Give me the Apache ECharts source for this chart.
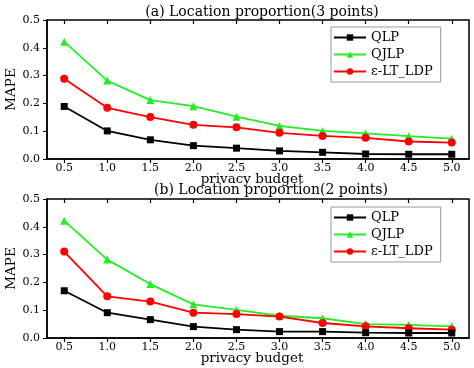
<!DOCTYPE html>
<html><head><meta charset="utf-8">
<script src="https://cdn.jsdelivr.net/npm/echarts@6/dist/echarts.min.js"></script>
<style>html,body{margin:0;padding:0;background:#fff}#c{width:474px;height:368px}</style>
</head><body><div id="c"></div>
<script>
const budgets = [0.5, 1.0, 1.5, 2.0, 2.5, 3.0, 3.5, 4.0, 4.5, 5.0];
const yTicks = [0.0, 0.1, 0.2, 0.3, 0.4, 0.5];
const seriesNames = ['QLP', 'QJLP', 'ε-LT_LDP'];
const titleA = '(a) Location proportion(3 points)';
const titleB = '(b) Location proportion(2 points)';
const qlpA  = [0.189, 0.101, 0.069, 0.048, 0.039, 0.029, 0.024, 0.018, 0.017, 0.017];
const qjlpA = [0.422, 0.282, 0.212, 0.190, 0.152, 0.119, 0.101, 0.092, 0.082, 0.073];
const ltA   = [0.289, 0.184, 0.151, 0.123, 0.114, 0.094, 0.083, 0.076, 0.063, 0.059];
const qlpB  = [0.170, 0.091, 0.066, 0.041, 0.030, 0.023, 0.023, 0.019, 0.018, 0.018];
const qjlpB = [0.422, 0.282, 0.194, 0.121, 0.101, 0.080, 0.071, 0.050, 0.047, 0.042];
const ltB   = [0.311, 0.150, 0.131, 0.091, 0.086, 0.077, 0.054, 0.042, 0.035, 0.030];

const FONT = 'DejaVu Serif';
const colors = ['#000000', '#22ee22', '#ff0000'];
const symbols = ['rect', 'triangle', 'circle'];
const symSizes = [7, 8, 8];

function pair(xs, ys){ return xs.map((x,i)=>[x, ys[i]]); }

const grids = [
  {left:47, right:5, top:20, height:139, show:true, borderColor:'#000', borderWidth:1.5, containLabel:false, outerBoundsMode:'none'},
  {left:47, right:5, top:199, height:139, show:true, borderColor:'#000', borderWidth:1.5, containLabel:false, outerBoundsMode:'none'}
];
function xAx(i){ return {
  type:'value', gridIndex:i, min:0.3, max:5.2, position:'bottom',
  name:'privacy budget', nameLocation:'middle', nameGap:13, nameMoveOverlap:false,
  nameTextStyle:{fontFamily:FONT, fontSize:13.5, color:'#000', padding:[0,12,0,0]},
  axisLine:{lineStyle:{color:'#000', width:1.5}},
  axisTick:{show:true, inside:false, length:4, customValues:budgets, lineStyle:{color:'#000', width:1.2}},
  splitLine:{show:false},
  axisLabel:{customValues:budgets, formatter:v=>v.toFixed(1), fontFamily:FONT, fontSize:11, color:'#000', margin:4}
};}
function xTop(i){ return {
  type:'value', gridIndex:i, min:0.3, max:5.2, position:'top',
  axisLine:{show:false},
  axisTick:{show:true, inside:true, length:4, customValues:budgets, lineStyle:{color:'#000', width:1.2}},
  splitLine:{show:false},
  axisLabel:{show:false, customValues:budgets}
};}
function yAx(i){ return {
  type:'value', gridIndex:i, min:0, max:0.5, interval:0.1,
  name:'MAPE', nameLocation:'middle', nameGap:29, nameMoveOverlap:false,
  nameTextStyle:{fontFamily:FONT, fontSize:13.5, color:'#000'},
  axisLine:{show:true, lineStyle:{color:'#000', width:1.5}},
  axisTick:{show:true, length:4, lineStyle:{color:'#000'}},
  splitLine:{show:false},
  axisLabel:{formatter:v=>v.toFixed(1), fontFamily:FONT, fontSize:11, color:'#000', margin:7}
};}
const data = [[qlpA, qjlpA, ltA],[qlpB, qjlpB, ltB]];
const series = [];
for (let g=0; g<2; g++){
  for (let s=0; s<3; s++){
    series.push({
      type:'line', name:seriesNames[s], xAxisIndex:g, yAxisIndex:g,
      data:pair(budgets, data[g][s]),
      symbol:symbols[s], symbolSize:symSizes[s],
      lineStyle:{color:colors[s], width:1.8},
      itemStyle:{color:colors[s]},
      z: s===0?4:(s===2?3:2)
    });
  }
}
function legend(top){ return {
  data:seriesNames, orient:'vertical', left:331, top:top,
  itemWidth:32, itemHeight:8, itemGap:4,
  borderColor:'#999', borderWidth:1, padding:[4,8,4,2],
  backgroundColor:'#fff',
  textStyle:{fontFamily:FONT, fontSize:13, color:'#000'}
};}
const chart = echarts.init(document.getElementById('c'), null, {renderer:'canvas'});
chart.setOption({
  animation:false,
  title:[
    {text:titleA, left:262, top:5, textAlign:'center', textStyle:{fontFamily:FONT, fontSize:14, fontWeight:'normal', color:'#000'}, padding:0},
    {text:titleB, left:271, top:183, textAlign:'center', textStyle:{fontFamily:FONT, fontSize:14, fontWeight:'normal', color:'#000'}, padding:0}
  ],
  grid:grids,
  xAxis:[xAx(0), xAx(1), xTop(0), xTop(1)],
  yAxis:[yAx(0), yAx(1)],
  legend:[legend(27), legend(207)],
  series:series
});
</script></body></html>
